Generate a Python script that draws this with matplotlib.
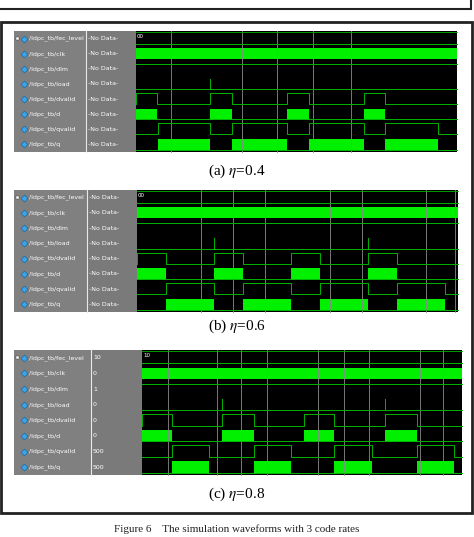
import matplotlib.pyplot as plt
from matplotlib.patches import Rectangle

plt.rcParams['mathtext.fontset'] = 'stix'

# signal names per panel
names_ab = ["/ldpc_tb/fec_level", "/ldpc_tb/clk", "/ldpc_tb/dlm", "/ldpc_tb/load",
            "/ldpc_tb/dvalid", "/ldpc_tb/d", "/ldpc_tb/qvalid", "/ldpc_tb/q"]
values_a = ["-No Data-"] * 8
values_b = ["-No Data-"] * 8
values_c = ["10", "0", "1", "0", "0", "0", "500", "500"]
bus_text = ["00", "00", "10"]
captions = [r"(a) $\eta$=0.4", r"(b) $\eta$=0.6", r"(c) $\eta$=0.8"]

# normalized times (0..1 across the wave window)
grid_a = [0.11, 0.33, 0.44, 0.55, 0.67]
grid_b = [0.20, 0.30, 0.40, 0.60, 0.70, 0.90, 0.99]
grid_c = [0.08, 0.235, 0.31, 0.39, 0.55, 0.63, 0.71, 0.87, 0.94]
load_a = [0.23]
load_b = [0.24, 0.72]
load_c = [0.25, 0.76]
dvalid_a = [(0.0, 0.066), (0.23, 0.30), (0.47, 0.54), (0.71, 0.775)]
qvalid_a = [(0.068, 0.23), (0.30, 0.47), (0.54, 0.71), (0.775, 0.94)]
dvalid_b = [(0.0, 0.09), (0.24, 0.33), (0.48, 0.57), (0.72, 0.81)]
qvalid_b = [(0.09, 0.24), (0.33, 0.48), (0.57, 0.72), (0.81, 0.96)]
dvalid_c = [(0.0, 0.095), (0.25, 0.35), (0.505, 0.60), (0.76, 0.86)]
qvalid_c = [(0.095, 0.21), (0.35, 0.465), (0.60, 0.72), (0.86, 0.975)]

# panel boxes in pixels: left, value-col x, wave x0, wave x1, top, bottom, caption y
panels = [
    (14, 86, 136, 457, 31, 152, 171),
    (14, 87, 137, 458, 190, 312, 326),
    (14, 91, 142, 462, 350, 475, 494),
]
data = [
    (values_a, grid_a, load_a, dvalid_a, qvalid_a),
    (values_b, grid_b, load_b, dvalid_b, qvalid_b),
    (values_c, grid_c, load_c, dvalid_c, qvalid_c),
]

fig = plt.figure(figsize=(4.74, 5.37), dpi=100)
ax = fig.add_axes([0, 0, 1, 1])
ax.set_xlim(0, 474)
ax.set_ylim(537, 0)
ax.axis('off')

LINE = '#00b400'
BURST = '#00f000'

ax.add_patch(Rectangle((-2, -5), 473, 14, fill=False, lw=1.5, ec='#222222'))
ax.add_patch(Rectangle((0.5, 22), 472, 491, fill=False, lw=2, ec='#222222'))

for (x0, xv, wx0, wx1, top, bot, cy), (vals, grid, loads, dval, qval), bt, cap in zip(
        panels, data, bus_text, captions):
    w = wx1 - wx0
    rh = (bot - top) / 8
    X = lambda t: wx0 + t * w
    ax.add_patch(Rectangle((x0, top), xv - x0, bot - top, fc='#808080', ec='none'))
    ax.add_patch(Rectangle((xv, top), wx0 - xv, bot - top, fc='#7a7a7a', ec='none'))
    ax.plot([xv, xv], [top, bot], color='#e8e8e8', lw=0.8)
    ax.add_patch(Rectangle((wx0, top), w, bot - top, fc='black', ec='none'))
    for g in grid:
        ax.plot([X(g)] * 2, [top, bot], color='#8a8a8a', lw=0.6)
    ax.plot([wx0, wx1], [top + 0.5, top + 0.5], color=LINE, lw=0.6)
    for i, (nm, v) in enumerate(zip(names_ab, vals)):
        ym = top + (i + 0.5) * rh
        r0 = top + i * rh
        lo = r0 + rh - 2.5
        hi = r0 + 1.5
        if i == 0:
            ax.add_patch(Rectangle((x0 + 2, ym - 1.5), 3, 3, fc='white', ec='#333333', lw=0.3))
        ax.plot(x0 + 10, ym, 'D', ms=3.5, color='#3aa6e8', mec='#1060a0', mew=0.4)
        ax.text(x0 + 15, ym, nm, fontsize=4.5, color='white', va='center')
        ax.text(xv + 2, ym, v, fontsize=4.5, color='white', va='center')
        if i == 0:
            ax.plot([wx0, wx1], [lo, lo], color=LINE, lw=0.7)
            ax.text(wx0 + 1, ym - 2, bt, fontsize=4, color='white', va='center')
        elif i == 1:
            ax.add_patch(Rectangle((wx0, r0 + 2), w, rh - 4.5, fc=BURST, ec='none'))
        elif i == 2:
            ax.plot([wx0, wx1], [r0 + 2.5, r0 + 2.5], color=LINE, lw=0.7)
        elif i == 3:
            ax.plot([wx0, wx1], [lo, lo], color=LINE, lw=0.7)
            for t in loads:
                ax.plot([X(t)] * 2, [lo, r0 + 2.5], color=LINE, lw=0.7)
        elif i in (4, 6):
            ivs = dval if i == 4 else qval
            xs, ys = [wx0], [lo]
            for a, b in ivs:
                xs += [X(a), X(a), X(b), X(b)]
                ys += [lo, hi, hi, lo]
            xs.append(wx1)
            ys.append(lo)
            ax.plot(xs, ys, color=LINE, lw=0.7)
        else:
            ivs = dval if i == 5 else qval
            ax.plot([wx0, wx1], [lo, lo], color=LINE, lw=0.7)
            for a, b in ivs:
                ax.add_patch(Rectangle((X(a), r0 + 2), X(b) - X(a), rh - 3.5, fc=BURST, ec='none'))
    ax.text(237, cy, cap, fontsize=11, ha='center', va='center', family='Liberation Serif')

ax.text(237, 529, "Figure 6    The simulation waveforms with 3 code rates",
        fontsize=8, ha='center', va='center', family='Liberation Serif', color='#222222')

fig.savefig('out.png', dpi=100)
